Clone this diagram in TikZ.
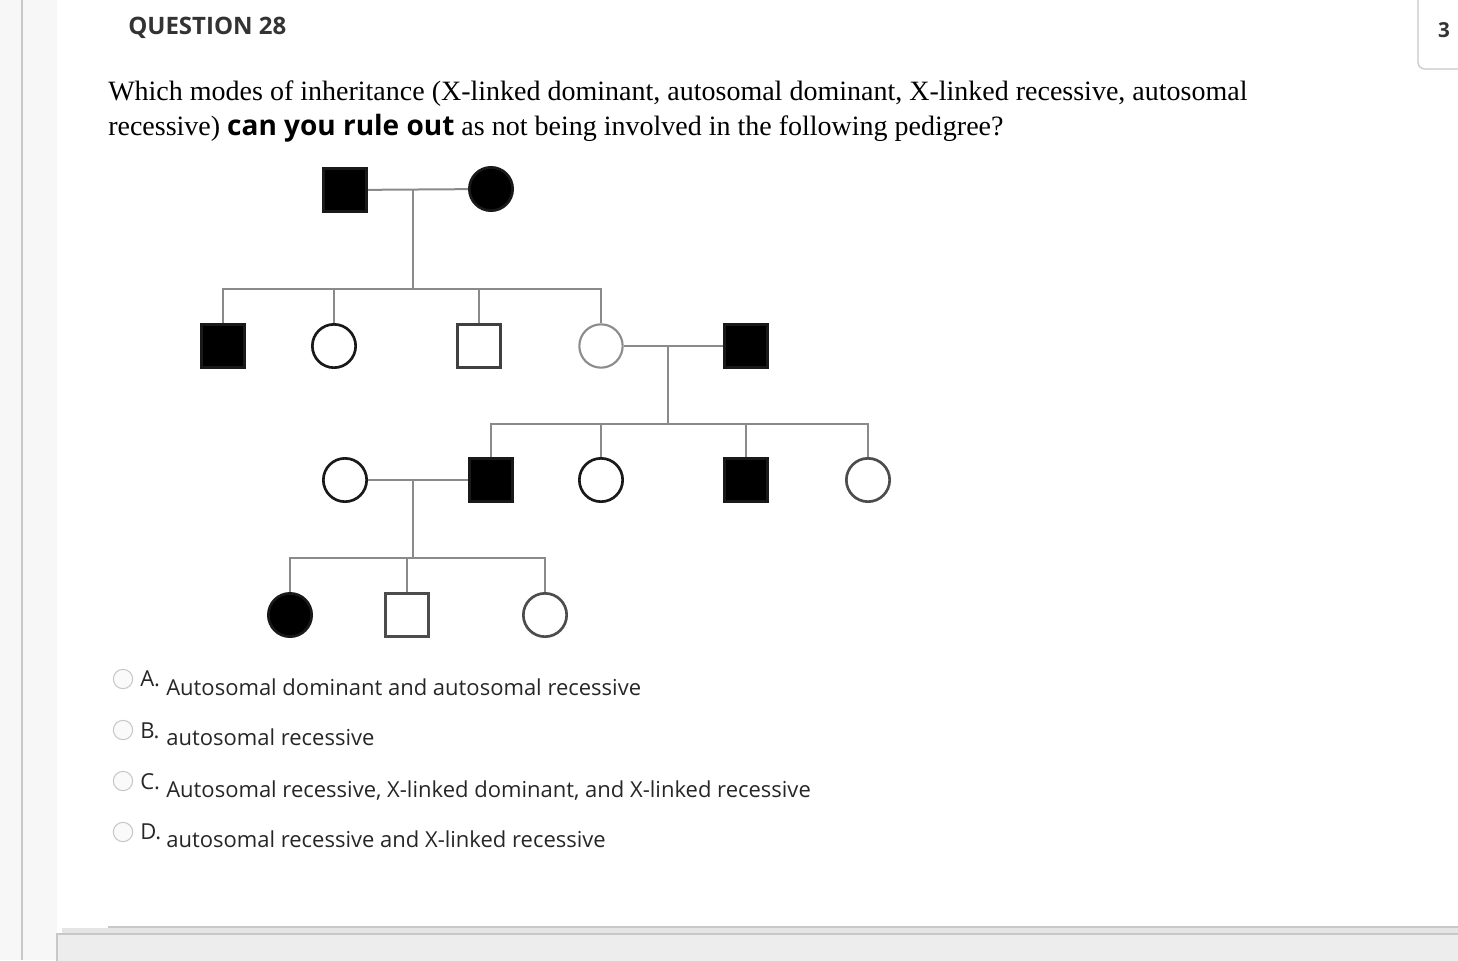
\documentclass[tikz,border=0pt]{standalone}
\usepackage{fontspec}
\setmainfont{Liberation Serif}
\newfontfamily\osans{Open Sans}
\usepackage{xcolor}
\usepackage{tikz}
\usetikzlibrary{positioning}

\definecolor{pagegray}{HTML}{F7F7F7}
\definecolor{rulegray}{HTML}{C8C8C8}
\definecolor{barfill}{HTML}{EDEDED}
\definecolor{linegray}{HTML}{8A8A8A}
\definecolor{headtext}{HTML}{333333}
\definecolor{opttext}{HTML}{262626}

\begin{document}
\begin{tikzpicture}[
  x=0.75pt, y=-0.75pt,
  male/.style   = {draw=black!90, rectangle, line width=2pt,
                   minimum size=32.5pt, inner sep=0pt},
  female/.style = {draw=black!90, circle, line width=2pt,
                   minimum size=32.5pt, inner sep=0pt},
  aff/.style    = {fill=black},
  faint/.style  = {draw=black!45, line width=1.6pt},
  link/.style   = {draw=linegray, line width=1.5pt},
  radio/.style  = {draw=black!22, fill=black!2, circle, line width=0.8pt,
                   minimum size=14.5pt, inner sep=0pt},
  optlbl/.style = {font=\osans\fontsize{16.5}{18}\selectfont, text=opttext,
                   inner sep=0pt, anchor=base west},
  opt/.style    = {font=\osans\fontsize{16.5}{18}\selectfont, text=opttext,
                   inner sep=0pt, anchor=base west}
]
\useasboundingbox (0,0) rectangle (1458,960);

% page frame
\fill[pagegray] (0,0) rectangle (57,960);
\draw[rulegray, line width=1.5pt] (22,0) -- (22,960);
\draw[rulegray, line width=1pt, rounded corners=5pt] (1418,-4) |- (1462,69);
\node[font=\osans\bfseries\fontsize{15.5}{17}\selectfont, text=headtext] (pts) at (1444,30) {3};

% question
\node[font=\osans\bfseries\fontsize{18}{20}\selectfont, text=headtext,
      anchor=base west, inner sep=0pt] (qhead) at (128,34) {QUESTION 28};
\node[font=\fontsize{21}{24}\selectfont, anchor=base west, inner sep=0pt] (qline1) at (108,100)
  {Which modes of inheritance (X-linked dominant, autosomal dominant, X-linked recessive, autosomal};
\node[font=\fontsize{21}{24}\selectfont, anchor=base west, inner sep=0pt] (qline2) at (108,135)
  {recessive) {\osans\bfseries\fontsize{21}{24}\selectfont can you rule out} as not being involved in the following pedigree?};

% generation I
\node[male, aff]   (i1) at (345,190) {};
\node[female, aff] (i2) at (491,189) {};
\coordinate (m1) at (413,190);
\coordinate (s1) at (413,289);

% generation II
\node[male, aff]      (ii1) at (223,346) {};
\node[female]         (ii2) at (334,346) {};
\node[male, draw=black!75] (ii3) at (479,346) {};
\node[female, faint]  (ii4) at (601,346) {};
\node[male, aff]      (ii5) at (746,346) {};
\coordinate (m2) at (668,346);
\coordinate (s2) at (668,424);

% generation III
\node[female]      (iii1) at (345,480) {};
\node[male, aff]   (iii2) at (491,480) {};
\node[female]      (iii3) at (601,480) {};
\node[male, aff]   (iii4) at (746,480) {};
\node[female, draw=black!70] (iii5) at (868,480) {};
\coordinate (m3) at (413,480);
\coordinate (s3) at (413,558);

% generation IV
\node[female, aff] (iv1) at (290,615) {};
\node[male, draw=black!70] (iv2) at (407,615) {};
\node[female, draw=black!70] (iv3) at (545,615) {};

% couples and sibships
\draw[link] (i1) -- (i2);
\draw[link] (m1) -- (s1);
\draw[link] (ii1.north) -- (ii1.north |- s1) -- (ii4.north |- s1) -- (ii4.north);
\foreach \c in {ii2, ii3}
  \draw[link] (\c.north) -- (\c.north |- s1);

\draw[link] (ii4) -- (ii5);
\draw[link] (m2) -- (s2);
\draw[link] (iii2.north) -- (iii2.north |- s2) -- (iii5.north |- s2) -- (iii5.north);
\foreach \c in {iii3, iii4}
  \draw[link] (\c.north) -- (\c.north |- s2);

\draw[link] (iii1) -- (iii2);
\draw[link] (m3) -- (s3);
\draw[link] (iv1.north) -- (iv1.north |- s3) -- (iv3.north |- s3) -- (iv3.north);
\draw[link] (iv2.north) -- (iv2.north |- s3);

% answer options
\node[radio] (ra) at (123,679) {};
\node[optlbl] (la) at (140,686) {A.};
\node[opt]    (ta) at (166,695) {Autosomal dominant and autosomal recessive};
\node[radio] (rb) at (123,730) {};
\node[optlbl] (lb) at (140,738) {B.};
\node[opt]    (tb) at (166,745) {autosomal recessive};
\node[radio] (rc) at (123,781) {};
\node[optlbl] (lc) at (140,789) {C.};
\node[opt]    (tc) at (166,797) {Autosomal recessive, X-linked dominant, and X-linked recessive};
\node[radio] (rd) at (123,832) {};
\node[optlbl] (ld) at (140,839) {D.};
\node[opt]    (td) at (166,847) {autosomal recessive and X-linked recessive};

% footer bar
\fill[black!10] (62,928) rectangle (1458,934);
\draw[rulegray, line width=1.5pt] (108,927) -- (1458,927);
\filldraw[fill=barfill, draw=rulegray, line width=1.5pt] (57,934) rectangle (1462,964);
\end{tikzpicture}
\end{document}
